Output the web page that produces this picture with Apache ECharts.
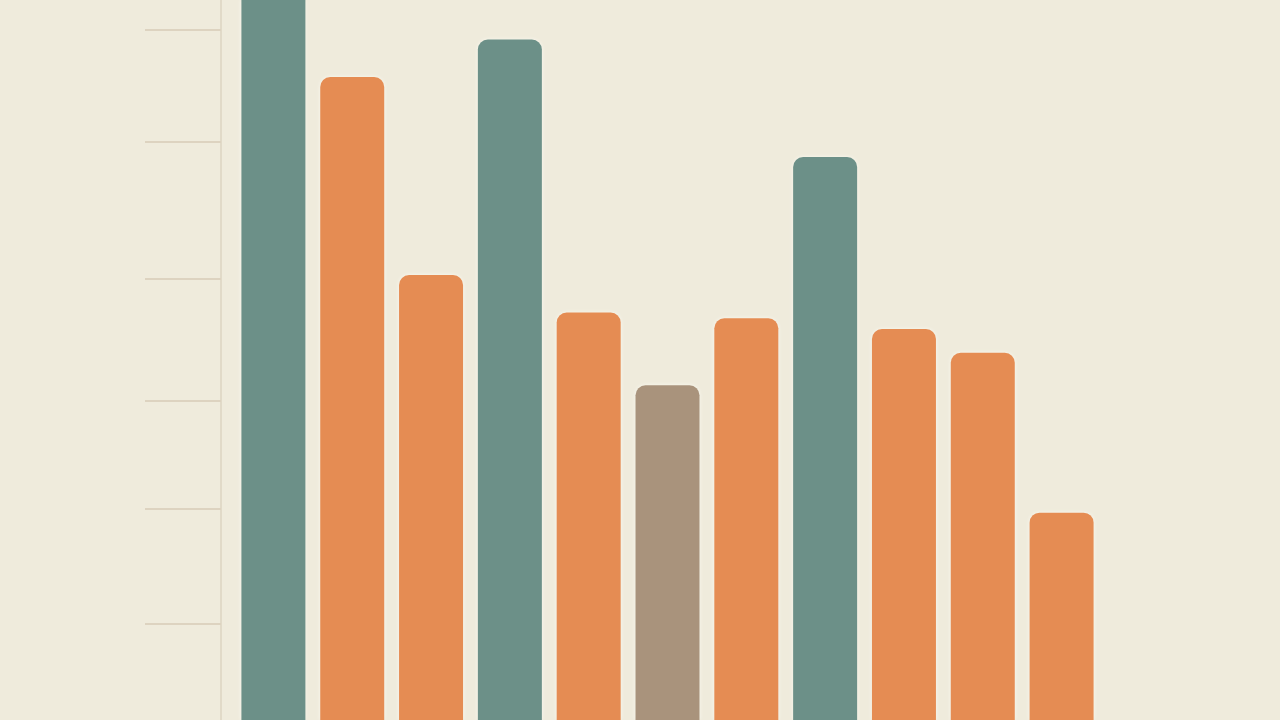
<!DOCTYPE html>
<html>
<head>
<meta charset="utf-8">
<script src="https://cdn.jsdelivr.net/npm/echarts@6/dist/echarts.min.js"></script>
<style>
html,body{margin:0;padding:0;background:#efebdc;}
#chart{width:1280px;height:720px;}
</style>
</head>
<body>
<div id="chart"></div>
<script>
const categories = ['A','B','C','D','E','F','G','H','I','J','K'];
const values = [105, 89.3, 61.8, 94.5, 56.6, 46.5, 55.8, 78.2, 54.3, 51.0, 28.8];
const groups = ['teal','orange','orange','teal','orange','tan','orange','teal','orange','orange','orange'];
const tickValues = [95.9, 80.3, 61.3, 44.4, 29.4, 13.4];

const palette = { teal: '#6c9088', orange: '#e58c53', tan: '#a9937c' };
const yMax = 100;

const chart = echarts.init(document.getElementById('chart'));
chart.setOption({
  backgroundColor: '#efebdc',
  animation: false,
  grid: [
    { left: 234, width: 867, top: 0, bottom: 0 },
    { left: 145, width: 76, top: 0, bottom: 0 }
  ],
  xAxis: [
    { type: 'category', data: categories, gridIndex: 0, show: false },
    { type: 'value', gridIndex: 1, min: 0, max: 1, show: false }
  ],
  yAxis: [
    { type: 'value', gridIndex: 0, min: 0, max: yMax, show: false },
    { type: 'value', gridIndex: 1, min: 0, max: yMax, position: 'right',
      axisLine: { show: true, onZero: false, lineStyle: { color: '#ddd4c2', width: 1.5 } },
      axisTick: { show: false }, axisLabel: { show: false }, splitLine: { show: false } }
  ],
  series: [
    {
      type: 'bar',
      xAxisIndex: 0, yAxisIndex: 0,
      barWidth: 64,
      clip: true,
      data: values.map((v, i) => ({
        value: v,
        itemStyle: {
          color: palette[groups[i]],
          borderRadius: v > yMax ? 0 : [10, 10, 0, 0]
        }
      })),
      itemStyle: {
        shadowColor: 'rgba(255,255,250,0.7)',
        shadowBlur: 4
      }
    },
    {
      type: 'line',
      xAxisIndex: 1, yAxisIndex: 1,
      data: [],
      markLine: {
        symbol: ['none', 'none'],
        silent: true,
        label: { show: false },
        lineStyle: { color: '#ddd3c0', width: 2, type: 'solid' },
        data: tickValues.map(v => ({ yAxis: v }))
      }
    }
  ]
});
</script>
</body>
</html>
